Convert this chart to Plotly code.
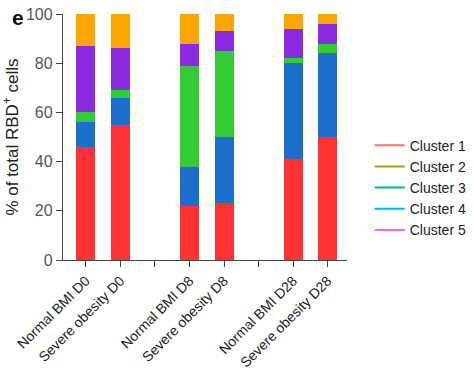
import plotly.graph_objects as go

categories = ["Normal BMI D0", "Severe obesity D0", " ",
              "Normal BMI D8", "Severe obesity D8", "  ",
              "Normal BMI D28", "Severe obesity D28"]
cluster_names = ["Cluster 1", "Cluster 2", "Cluster 3", "Cluster 4", "Cluster 5"]
# segment values (bottom to top) per category; None = empty slot
seg_red = [46, 55, None, 22, 23, None, 41, 50]
seg_blue = [10, 11, None, 16, 27, None, 39, 34]
seg_green = [4, 3, None, 41, 35, None, 2, 4]
seg_purple = [27, 17, None, 9, 8, None, 12, 8]
seg_orange = [13, 14, None, 12, 7, None, 6, 4]

bar_colors = ["#FF3333", "#1C70CC", "#33CC33", "#8A2BE2", "#FFA500"]
legend_colors = ["#F8766D", "#A3A500", "#00BF7D", "#00B0F6", "#E76BF3"]

series = [seg_red, seg_blue, seg_green, seg_purple, seg_orange]

fig = go.Figure()
for vals, col, name in zip(series, bar_colors, cluster_names):
    fig.add_trace(go.Bar(x=categories, y=vals, marker=dict(color=col, line=dict(width=0)),
                         name=name, showlegend=False, width=0.55))
for col, name in zip(legend_colors, cluster_names):
    fig.add_trace(go.Scatter(x=[None], y=[None], mode="lines", line=dict(color=col, width=2),
                             name=name, showlegend=True))

font = "Liberation Sans, Arial, sans-serif"
fig.update_layout(
    barmode="stack",
    width=474, height=377,
    margin=dict(l=63, r=127, t=14, b=117, autoexpand=False),
    plot_bgcolor="white", paper_bgcolor="white",
    font=dict(family=font, color="#222"),
    legend=dict(x=1.08, xanchor="left", y=0.53, yanchor="top", traceorder="normal",
                font=dict(size=14, family=font, color="#222"),
                itemwidth=30, tracegroupgap=0, bgcolor="rgba(0,0,0,0)"),
    xaxis=dict(type="category", categoryorder="array", categoryarray=categories,
               range=[-0.66, 7.56], showline=True, linecolor="#444", linewidth=1.3,
               ticks="outside", ticklen=6, tickcolor="#444", tickangle=-45, automargin=False,
               tickfont=dict(size=14, color="#222", family=font), showgrid=False),
    yaxis=dict(range=[0, 100], tickvals=[0, 20, 40, 60, 80, 100], showline=True, automargin=False,
               linecolor="#444", linewidth=1.3, ticks="outside", ticklen=6, tickcolor="#444",
               tickfont=dict(size=16, color="#555", family=font), showgrid=False, zeroline=False,
               title=dict(text="% of total RBD<sup>+</sup> cells", font=dict(size=17, color="#222", family=font),
                          standoff=6)),
)
fig.add_annotation(text="<b>e</b>", xref="paper", yref="paper", x=-0.187, y=1.042,
                   xanchor="left", yanchor="top", showarrow=False,
                   font=dict(size=21, color="#111", family=font))
fig.write_html("out.html", config={"displayModeBar": False},
               post_script="document.body.style.margin='0';")
